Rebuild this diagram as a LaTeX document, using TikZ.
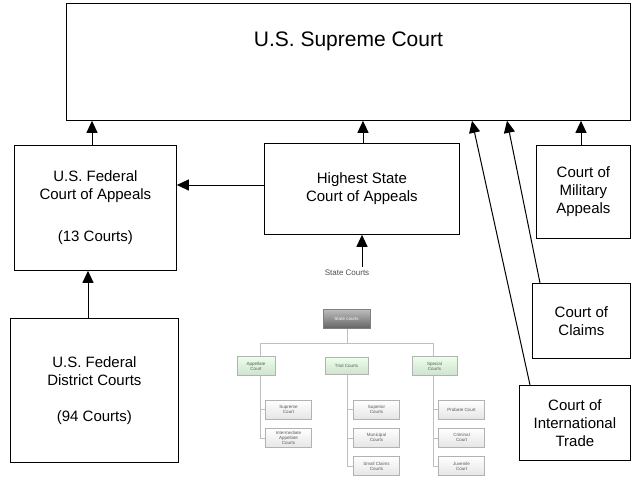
\documentclass[tikz,border=0pt]{standalone}
\usepackage{fontspec}
\setmainfont{Liberation Sans}
\usetikzlibrary{arrows.meta}
\begin{document}
\begin{tikzpicture}[x=1pt,y=-1pt,
  box/.style={draw,line width=0.8pt,align=center,font=\fontsize{15}{18}\selectfont,anchor=north west,inner sep=0pt},
  arr/.style={line width=1pt,-{Triangle[length=12pt,width=11pt]}},
  sm/.style={draw=gray!60,line width=0.4pt,align=center,font=\fontsize{4.5}{5}\selectfont,text=gray!70!black,inner sep=0pt,minimum width=46pt,minimum height=19pt,top color=white,bottom color=gray!20},
  gr/.style={sm,top color=green!8,bottom color=green!25!gray!30,minimum height=19pt},
  ln/.style={gray!50,line width=0.6pt}]
\useasboundingbox (0,0) rectangle (638,479);
\node[box,minimum width=564pt,minimum height=117pt,font=\fontsize{21}{25}\selectfont] (sc) at (66,3) {U.S. Supreme Court\\[20pt]};
\node[box,minimum width=162pt,minimum height=125pt] (fa) at (14,145) {U.S. Federal\\Court of Appeals\\[24pt](13 Courts)};
\node[box,minimum width=195pt,minimum height=91pt] (hs) at (264,143) {Highest State\\Court of Appeals};
\node[box,minimum width=94pt,minimum height=93pt] (mil) at (536,145) {Court of\\Military\\Appeals};
\node[box,minimum width=98pt,minimum height=75pt] (cl) at (532,283) {Court of\\Claims};
\node[box,minimum width=111pt,minimum height=75pt] (it) at (519,385) {Court of\\International\\Trade};
\node[box,minimum width=168pt,minimum height=144pt] (dc) at (10,318) {U.S. Federal\\District Courts\\[18pt](94 Courts)};
\node[font=\fontsize{8}{9}\selectfont,text=gray!60!black] (stl) at (347,273) {State Courts};
\draw[arr] (fa.north -| 92,0) -- (sc.south -| 92,0);
\draw[arr] (hs.north -| 363,0) -- (sc.south -| 363,0);
\draw[arr] (hs.west |- 0,185) -- (fa.east |- 0,185);
\draw[arr] (dc.north -| 88,0) -- (fa.south -| 88,0);
\draw[arr] (mil.north -| 581,0) -- (sc.south -| 581,0);
\draw[arr] (cl.north -| 540,0) -- (sc.south -| 507,0);
\draw[arr] (it.north -| 530,0) -- (sc.south -| 472,0);
\draw[arr] (stl.north -| 362,0) -- (hs.south -| 362,0);
% small chart
\draw[ln] (347,328) -- (347,343); \draw[ln] (260,343) -- (433,343);
\draw[ln] (260,343) -- (260,357); \draw[ln] (433,343) -- (433,357);
\draw[ln] (260,375) -- (260,438) -- (265,438); \draw[ln] (260,409) -- (265,409);
\draw[ln] (347,375) -- (347,466) -- (353,466); \draw[ln] (347,409) -- (353,409); \draw[ln] (347,438) -- (353,438);
\draw[ln] (433,375) -- (433,466) -- (438,466); \draw[ln] (433,409) -- (438,409); \draw[ln] (433,438) -- (438,438);
\node[sm,top color=gray!50,bottom color=gray!80!black,draw=gray,text=white,minimum width=47pt] (st) at (346.5,318.5) {State courts};
\node[gr,minimum width=38pt] (ap) at (256,366) {Appellate\\Court};
\node[gr,minimum width=43pt,minimum height=17pt] (tr) at (346.5,366) {Trial Courts};
\node[gr,minimum width=45pt] (sp) at (434.5,366) {Special\\Courts};
\node[sm] (s1) at (288.5,409.5) {Supreme\\Court};
\node[sm] (s2) at (288.5,438) {Intermediate\\Appellate\\Courts};
\node[sm] (t1) at (376.5,409.5) {Superior\\Courts};
\node[sm] (t2) at (376.5,437.5) {Municipal\\Courts};
\node[sm] (t3) at (376.5,466) {Small Claims\\Courts};
\node[sm] (p1) at (461.5,409.5) {Probate Court};
\node[sm] (p2) at (461.5,437.5) {Criminal\\Court};
\node[sm] (p3) at (461.5,466) {Juvenile\\Court};
\end{tikzpicture}
\end{document}
